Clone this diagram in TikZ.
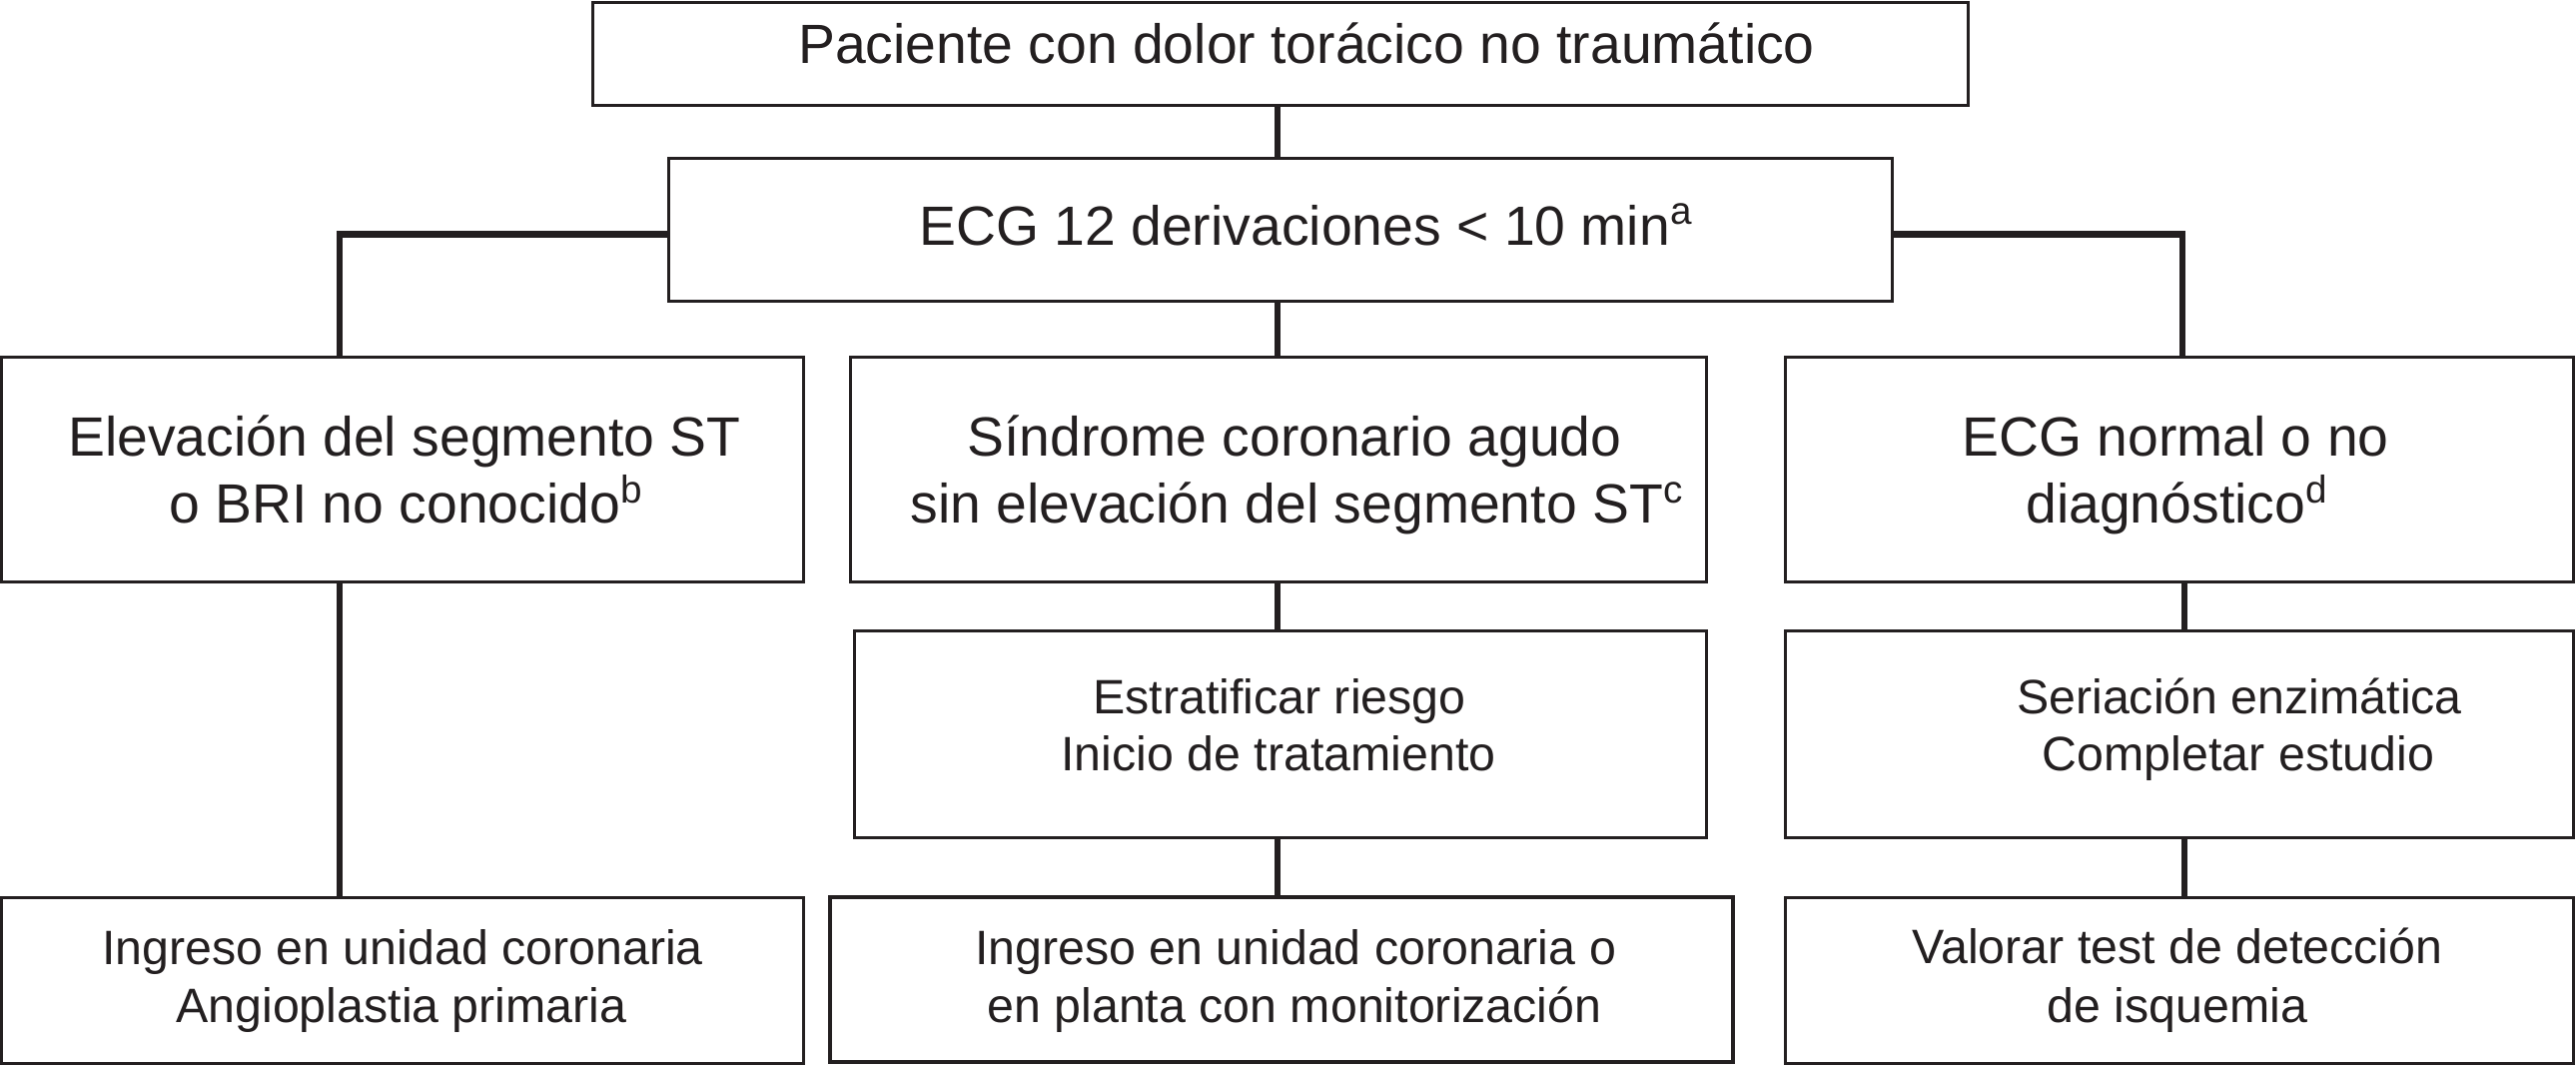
\documentclass[tikz,border=0pt]{standalone}
\usepackage{fontspec}
\setmainfont{Liberation Sans}
\definecolor{ink}{RGB}{35,31,32}
\newcommand\sups[1]{\raisebox{0.2cm}{\fontsize{11}{12}\selectfont #1}}
\begin{document}
\begin{tikzpicture}[x=0.01cm,y=-0.01cm,
  box/.style={draw=ink, line width=0.03cm, inner sep=0pt, outer sep=0pt, rectangle},
  boxthick/.style={box, line width=0.04cm},
  conn/.style={draw=ink, line width=0.066cm},
  big/.style={inner sep=0pt, anchor=base, text=ink, font=\fontsize{15.73}{19}\selectfont},
  small/.style={inner sep=0pt, anchor=base, text=ink, font=\fontsize{13.74}{16.5}\selectfont}]
\useasboundingbox[fill=white] (0,0) rectangle (2579,1069);
% boxes
\node[box, minimum width=13.76cm, minimum height=1.02cm] (top) at (1282,54) {};
\node[box, minimum width=12.24cm, minimum height=1.42cm] (ecg) at (1282,230) {};
\node[box, minimum width=8.02cm, minimum height=2.24cm] (b1) at (403,470) {};
\node[box, minimum width=8.56cm, minimum height=2.24cm] (b2) at (1280,470) {};
\node[box, minimum width=7.88cm, minimum height=2.24cm] (b3) at (2182,470) {};
\node[box, minimum width=8.52cm, minimum height=2.06cm] (m2) at (1282,735) {};
\node[box, minimum width=7.88cm, minimum height=2.06cm] (m3) at (2182,735) {};
\node[box, minimum width=8.02cm, minimum height=1.65cm] (c1) at (403,981.5) {};
\node[boxthick, minimum width=9.04cm, minimum height=1.65cm] (c2) at (1283,980.5) {};
\node[box, minimum width=7.88cm, minimum height=1.65cm] (c3) at (2182,981.5) {};
% texts
\node[big] (t0) at (1308,63) {Paciente con dolor torácico no traumático};
\node[big] (t1) at (1307,245) {ECG 12 derivaciones < 10 min\sups{a}};
\node[big] (t2a) at (405,456) {Elevación del segmento ST};
\node[big] (t2b) at (406,523) {o BRI no conocido\sups{b}};
\node[big] (t3a) at (1296,456) {Síndrome coronario agudo};
\node[big] (t3b) at (1298,523) {sin elevación del segmento ST\sups{c}};
\node[big] (t4a) at (2178,456) {ECG normal o no};
\node[big] (t4b) at (2179,523) {diagnóstico\sups{d}};
\node[small] (t5a) at (1281,714) {Estratificar riesgo};
\node[small] (t5b) at (1280,771) {Inicio de tratamiento};
\node[small] (t6a) at (2242,714) {Seriación enzimática};
\node[small] (t6b) at (2241,771) {Completar estudio};
\node[small] (t7a) at (403,965) {Ingreso en unidad coronaria};
\node[small] (t7b) at (402,1023) {Angioplastia primaria};
\node[small] (t8a) at (1297,965) {Ingreso en unidad coronaria o};
\node[small] (t8b) at (1296,1023) {en planta con monitorización};
\node[small] (t9a) at (2180,964) {Valorar test de detección};
\node[small] (t9b) at (2180,1023) {de isquemia};
% connectors
\coordinate (lb) at (340,234.5);
\coordinate (rb) at (2185,234.5);
\draw[conn] (top.south -| 1279,0) -- (ecg.north -| 1279,0);
\draw[conn] (ecg.west |- lb) -- (lb) -- (b1.north -| lb);
\draw[conn] (ecg.east |- rb) -- (rb) -- (b3.north -| rb);
\draw[conn] (ecg.south -| 1279,0) -- (b2.north -| 1279,0);
\draw[conn] (b1.south -| lb) -- (c1.north -| lb);
\draw[conn] (b2.south -| 1279,0) -- (m2.north -| 1279,0);
\draw[conn] (m2.south -| 1279,0) -- (c2.north -| 1279,0);
\draw[conn] (b3.south -| 2187,0) -- (m3.north -| 2187,0);
\draw[conn] (m3.south -| 2187,0) -- (c3.north -| 2187,0);
\end{tikzpicture}
\end{document}
